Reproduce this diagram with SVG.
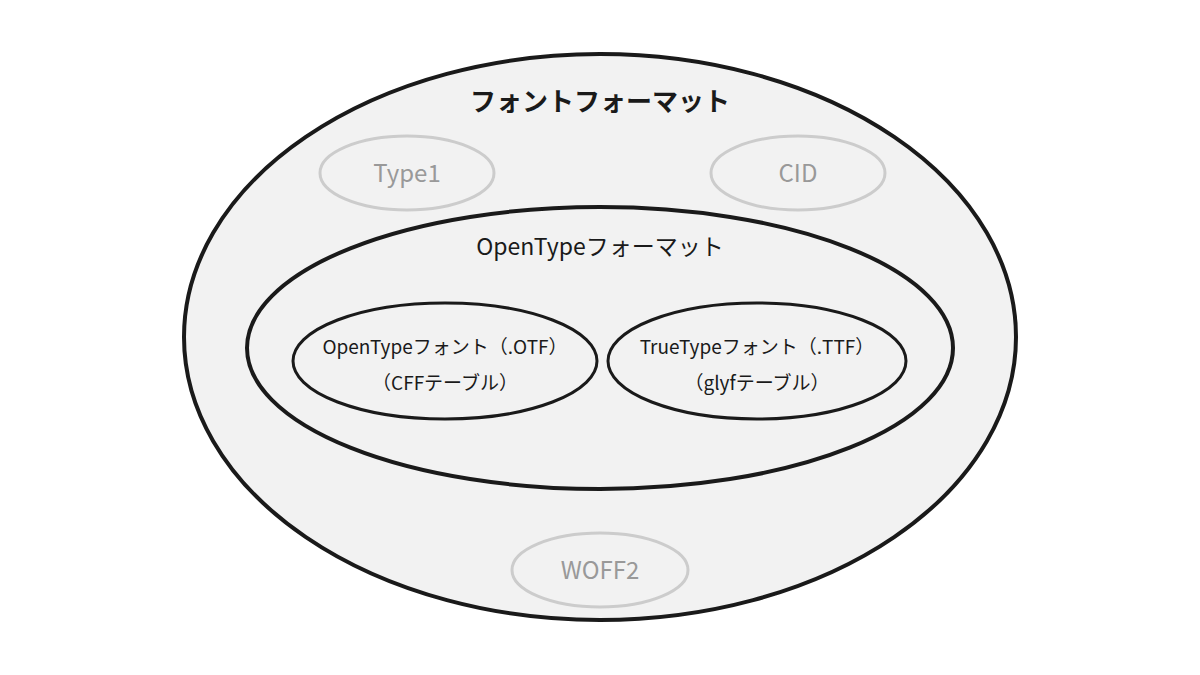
<svg xmlns="http://www.w3.org/2000/svg" width="1200" height="675" viewBox="0 0 1200 675">
<style>
text{font-family:"Noto Sans CJK JP","Noto Sans",sans-serif;text-anchor:middle;dominant-baseline:central}
.main{fill:#f2f2f2;stroke:#1a1a1a;stroke-width:4}
.sub{fill:#f2f2f2;stroke:#1a1a1a;stroke-width:3}
.gray{fill:#f2f2f2;stroke:#cccccc;stroke-width:3}
.gt{fill:#999999;font-size:24px}
.bt{fill:#1a1a1a}
</style>
<rect width="1200" height="675" fill="#ffffff"/>
<g id="font-format">
<ellipse class="main" cx="600" cy="337" rx="416" ry="283"/>
<text class="bt" x="600" y="99" font-size="26" font-weight="bold">フォントフォーマット</text>
</g>
<g id="type1">
<ellipse class="gray" cx="407" cy="173" rx="87" ry="37"/>
<text class="gt" x="407" y="171">Type1</text>
</g>
<g id="cid">
<ellipse class="gray" cx="798" cy="173" rx="87" ry="37"/>
<text class="gt" x="798" y="171">CID</text>
</g>
<g id="opentype-format">
<ellipse class="main" cx="600" cy="348" rx="353" ry="141"/>
<text class="bt" x="600" y="245" font-size="23">OpenTypeフォーマット</text>
</g>
<g id="otf">
<ellipse class="sub" cx="445" cy="361" rx="152" ry="58"/>
<text class="bt" x="445" y="345" font-size="19">OpenTypeフォント（.OTF）</text>
<text class="bt" x="445" y="381" font-size="19">（CFFテーブル）</text>
</g>
<g id="ttf">
<ellipse class="sub" cx="757" cy="361" rx="149" ry="58"/>
<text class="bt" x="757" y="345" font-size="19">TrueTypeフォント（.TTF）</text>
<text class="bt" x="757" y="381" font-size="19">（glyfテーブル）</text>
</g>
<g id="woff2">
<ellipse class="gray" cx="600" cy="570" rx="88" ry="37"/>
<text class="gt" x="600" y="568">WOFF2</text>
</g>
<g id="connectors"/>
</svg>
